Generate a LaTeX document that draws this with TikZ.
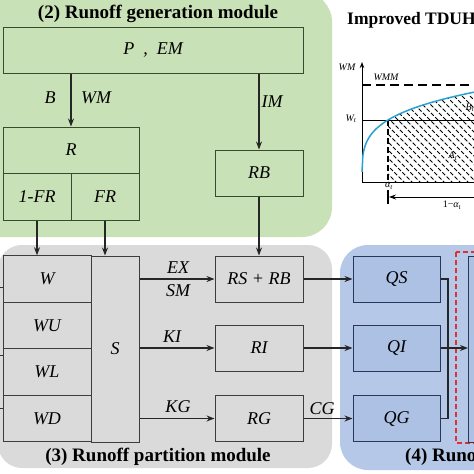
\documentclass[tikz,border=0pt]{standalone}
\usepackage{fontspec}
\setmainfont{Liberation Serif}
\usetikzlibrary{arrows.meta,calc}
\definecolor{gbg}{RGB}{200,225,182}
\definecolor{gybg}{RGB}{218,218,218}
\definecolor{bbg}{RGB}{182,200,232}
\definecolor{bboxfill}{RGB}{172,193,228}
\definecolor{gline}{RGB}{55,75,45}
\definecolor{kline}{RGB}{60,60,60}
\definecolor{bline}{RGB}{40,55,90}
\definecolor{curvecol}{RGB}{40,160,210}
\definecolor{reddash}{RGB}{220,50,50}
\begin{document}
\begin{tikzpicture}[x=1pt,y=-1pt,
 box/.style={draw, line width=1pt, rectangle, inner sep=0pt, font=\fontsize{18}{20}\selectfont\itshape},
 gbox/.style={box, draw=gline, fill=gbg},
 kbox/.style={box, draw=kline, fill=gybg},
 bbox/.style={box, draw=bline, fill=bboxfill},
 arr/.style={-{Stealth[length=8pt,width=6pt]}, line width=1.3pt, black!85},
 ln/.style={line width=1.3pt, black!85},
 lab/.style={font=\fontsize{18}{20}\selectfont\itshape, inner sep=0pt},
 ttl/.style={font=\fontsize{19}{21}\selectfont\bfseries, inner sep=0pt},
 sm/.style={font=\fontsize{10}{11}\selectfont\itshape, inner sep=0pt},
 hatch/.style={line width=1pt, dash pattern=on 4pt off 2pt},
]
\clip (0,0) rectangle (474,474);
\fill[white] (0,0) rectangle (474,474);
% panels
\fill[gbg, rounded corners=30pt] (-40,-8) rectangle (332,237);
\fill[gybg, rounded corners=24pt] (-2,245) rectangle (332,468);
\fill[bbg, rounded corners=28pt] (340,245) rectangle (530,470);
% titles
\node[ttl] (t2) at (158,14) {(2) Runoff generation module};
\node[ttl] (t3) at (158,457) {(3) Runoff partition module};
\node[ttl, anchor=west] (t4) at (405,457) {(4) Runoff routing module};
\node[ttl, anchor=west, font=\fontsize{17.5}{19}\selectfont\bfseries] (t1) at (347,20) {Improved TDUH};
% module 2
\node[gbox, minimum width=300pt, minimum height=46pt] (pem) at (153,50) {P\ \ ,\ \ EM};
\node[gbox, minimum width=136pt, minimum height=46pt] (R) at (71,150) {R};
\node[gbox, minimum width=68pt, minimum height=47pt] (fr1) at (37,196.5) {1-FR};
\node[gbox, minimum width=68pt, minimum height=47pt] (fr) at (105,196.5) {FR};
\node[gbox, minimum width=88pt, minimum height=46pt] (RB) at (259,173) {RB};
\draw[arr] (R.north |- pem.south) -- (R.north);
\node[lab] (lB) at (50,98) {B};
\node[lab] (lWM) at (96,98) {WM};
\draw[arr] (RB.north |- pem.south) -- (RB.north);
\node[lab] (lIM) at (272,102) {IM};
% module 3
\node[kbox, minimum width=88pt, minimum height=46.5pt] (W) at (47,279) {W};
\node[kbox, minimum width=88pt, minimum height=46.5pt] (WU) at (47,325.5) {WU};
\node[kbox, minimum width=88pt, minimum height=46.5pt] (WL) at (47,372) {WL};
\node[kbox, minimum width=88pt, minimum height=46.5pt] (WD) at (47,418.5) {WD};
\node[kbox, minimum width=48pt, minimum height=186pt] (S) at (115,349) {S};
\node[kbox, minimum width=88pt, minimum height=46pt] (RSRB) at (259,279) {RS + RB};
\node[kbox, minimum width=88pt, minimum height=46pt] (RI) at (259,348) {RI};
\node[kbox, minimum width=88pt, minimum height=46pt] (RG) at (259,418.5) {RG};
\draw[arr] (fr1.south) -- (fr1.south |- W.north);
\draw[arr] (fr.south) -- (fr.south |- S.north);
\draw[arr] (RB.south) -- (RSRB.north);
\draw[arr] (S.east |- RSRB.west) -- (RSRB.west);
\node[lab] (lEX) at (178,268) {EX};
\node[lab] (lSM) at (178,291) {SM};
\draw[arr] (S.east |- RI.west) -- (RI.west);
\node[lab] (lKI) at (172,337) {KI};
\draw[arr] (S.east |- RG.west) -- (RG.west);
\node[lab] (lKG) at (178,407) {KG};
% stubs from left
\coordinate (s1) at (0,287);
\coordinate (s2) at (0,355);
\coordinate (s3) at (0,408);
\draw[line width=1pt, black!80] (s1) -- (s1 -| W.west);
\draw[line width=1pt, black!80] (s2) -- (s2 -| W.west);
\draw[line width=1pt, black!80] (s3) -- (s3 -| W.west);
% module 4
\node[bbox, minimum width=87pt, minimum height=46pt] (QS) at (396.5,279) {QS};
\node[bbox, minimum width=87pt, minimum height=46pt] (QI) at (396.5,348) {QI};
\node[bbox, minimum width=87pt, minimum height=46pt] (QG) at (396.5,418.5) {QG};
\draw[arr] (RSRB.east) -- (QS.west);
\draw[arr] (RI.east) -- (QI.west);
\draw[arr] (RG.east) -- (QG.west);
\node[lab] (lCG) at (322,409) {CG};
\draw[reddash, line width=1.2pt, dash pattern=on 5pt off 3pt] (456,252) rectangle (495,443);
\node[bbox, minimum width=40pt, minimum height=186pt, anchor=north west] (route) at (468,256) {};
\coordinate (j1) at (448,279);
\coordinate (j2) at (448,418.5);
\draw[ln] (QS.east) -- (j1) -- (j2) -- (QG.east);
\draw[arr] (QI.east) -- (route.west |- QI.east);
% TDUH graph
\begin{scope}
\clip (388,182) -- plot[domain=26:118, samples=60] ({362+\x},{182-27.1*(\x)^0.254}) -- (480,182) -- cycle;
\foreach \i in {-126,-118,...,100} \draw[hatch] ({388+(\i)},96) -- ++(96,96);
\end{scope}
\draw[line width=1pt] (362,182) -- (480,182);
\draw[-{Stealth[length=6pt,width=4.5pt]}, line width=1pt] (362,182) -- (362,62);
\draw[line width=1.4pt, dash pattern=on 9pt off 5pt] (362,85) -- (480,85);
\draw[line width=1pt] (362,120) -- (480,120);
\draw[line width=1.4pt, dash pattern=on 6pt off 3pt] (388,120) -- (388,182);
\draw[curvecol, line width=1.5pt] plot[domain=0.02:118, samples=150] ({362+\x},{182-27.1*(\x)^0.254});
\draw[line width=1.2pt] (388,190) -- (388,204);
\draw[-{Stealth[length=7pt,width=5pt]}, line width=1pt] (480,197) -- (389,197);
\node[sm] (gWM) at (347,67) {WM};
\node[sm] (gWMM) at (386,77) {WMM};
\node[sm] (gWt) at (351,119) {W\textsubscript{t}};
\node[sm] (gat) at (389,186) {α\textsubscript{t}};
\node[sm] (gAt) at (453,156) {A\textsubscript{t}};
\node[sm] (gBt) at (470,108) {B\textsubscript{t}};
\node[font=\fontsize{10}{11}\selectfont, inner sep=0pt] (g1a) at (452,205) {1−{\itshape α}\textsubscript{t}};
\end{tikzpicture}
\end{document}
